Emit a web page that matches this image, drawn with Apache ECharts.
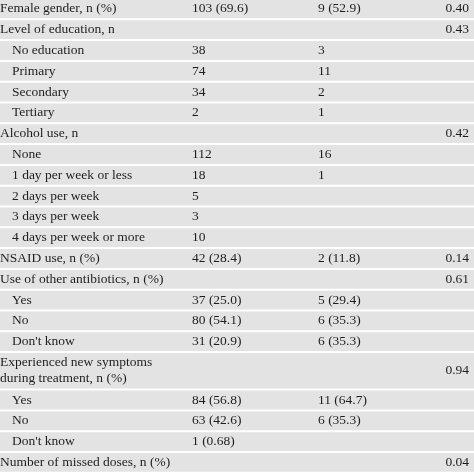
<!DOCTYPE html>
<html><head><meta charset="utf-8">
<script src="https://cdn.jsdelivr.net/npm/echarts@6/dist/echarts.min.js"></script>
<style>html,body{margin:0;padding:0;background:#fff}#c{width:474px;height:474px}</style>
</head><body><div id="c"></div>
<script>
const labels = ["Female gender, n (%)","Level of education, n","No education","Primary","Secondary","Tertiary","Alcohol use, n","None","1 day per week or less","2 days per week","3 days per week","4 days per week or more","NSAID use, n (%)","Use of other antibiotics, n (%)","Yes","No","Don't know","Experienced new symptoms\nduring treatment, n (%)","Yes","No","Don't know","Number of missed doses, n (%)"];
const indent = [0,0,1,1,1,1,0,1,1,1,1,1,0,0,1,1,1,0,1,1,1,0];
const col2 = ["103 (69.6)","","38","74","34","2","","112","18","5","3","10","42 (28.4)","","37 (25.0)","80 (54.1)","31 (20.9)","","84 (56.8)","63 (42.6)","1 (0.68)",""];
const col3 = ["9 (52.9)","","3","11","2","1","","16","1","","","","2 (11.8)","","5 (29.4)","6 (35.3)","6 (35.3)","","11 (64.7)","6 (35.3)","",""];
const pvals = ["0.40","0.43","","","","","0.42","","","","","","0.14","0.61","","","","0.94","","","","0.04"];

const H = 20.8, H2 = 37.5, top0 = -1.5;
const font = '13.5px "Liberation Serif", serif';
const elems = [];
let y = top0;
labels.forEach((lab, i) => {
  const h = lab.includes("\n") ? H2 : H;
  elems.push({type:'rect', shape:{x:0,y:y+1,width:474,height:h-2}, style:{fill:'#e3e3e3'}});
  const cy = y + h/2;
  const ts = (x, t, align) => elems.push({type:'text', x, y:cy, style:{text:t, font, fill:'#1e1e1e', align, verticalAlign:'middle', lineHeight:16}});
  ts(indent[i] ? 12 : 0, lab, 'left');
  if (col2[i]) ts(192, col2[i], 'left');
  if (col3[i]) ts(318, col3[i], 'left');
  if (pvals[i]) ts(469, pvals[i], 'right');
  y += h;
});
const chart = echarts.init(document.getElementById('c'));
chart.setOption({animation:false, backgroundColor:'#fff', graphic:{elements:elems}});
</script></body></html>
